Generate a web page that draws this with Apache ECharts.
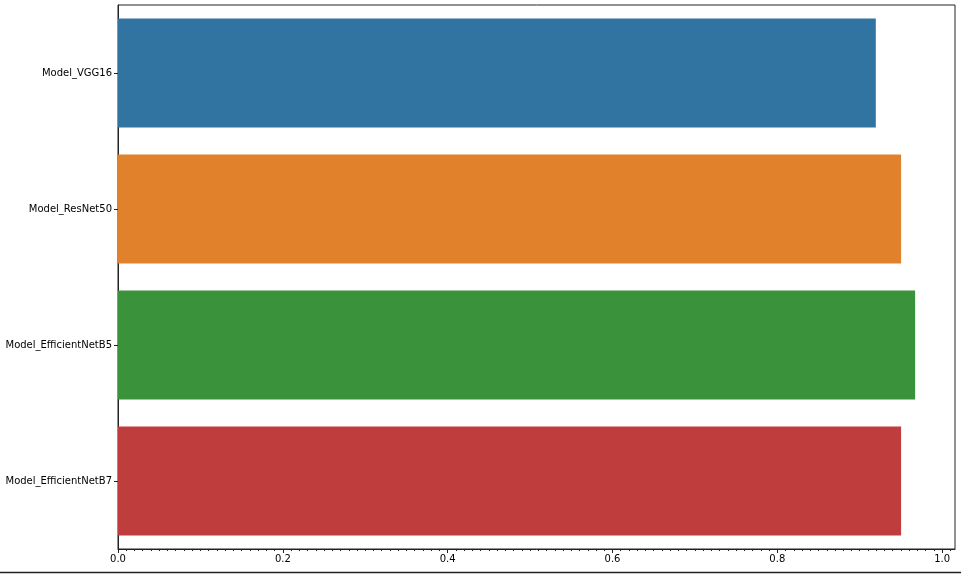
<!DOCTYPE html>
<html>
<head>
<meta charset="utf-8">
<script src="https://cdn.jsdelivr.net/npm/echarts@6/dist/echarts.min.js"></script>
<style>
html,body{margin:0;padding:0;background:#fff;}
#chart{width:961px;height:574px;}
</style>
</head>
<body>
<div id="chart"></div>
<script>
// model names and accuracy
var models = ['Model_VGG16', 'Model_ResNet50', 'Model_EfficientNetB5', 'Model_EfficientNetB7'];
var accuracy = [0.9195, 0.9502, 0.9672, 0.9502];
var barColors = ['#3274a1', '#e1812c', '#3a923a', '#c03d3e'];
var xTicks = [0.0, 0.2, 0.4, 0.6, 0.8, 1.0];

var chart = echarts.init(document.getElementById('chart'));

var option = {
	animation: false,
	textStyle: {fontFamily: 'DejaVu Sans'},
	grid: {
		left: 118, right: 6, top: 5, bottom: 25,
		show: true, borderColor: '#222', borderWidth: 1, backgroundColor: 'transparent'
	},
	xAxis: {
		type: 'value',
		min: 0,
		max: 1.0156,
		interval: 0.2,
		axisLine: {show: true, lineStyle: {color: '#222', width: 1}},
		axisTick: {show: true, length: 4, customValues: xTicks, lineStyle: {color: '#222'}},
		minorTick: {show: true, splitNumber: 20, length: 2, lineStyle: {color: '#222'}},
		splitLine: {show: false},
		axisLabel: {
			color: '#000', fontSize: 10, margin: 5,
			customValues: xTicks,
			formatter: function (v) { return v.toFixed(1); }
		}
	},
	yAxis: {
		type: 'category',
		data: models,
		inverse: true,
		axisLine: {show: true, lineStyle: {color: '#222', width: 1}},
		axisTick: {show: true, alignWithLabel: true, length: 4, lineStyle: {color: '#222'}},
		axisLabel: {color: '#000', fontSize: 10, margin: 6}
	},
	graphic: [{
		type: 'line',
		shape: {x1: 0, y1: 572.5, x2: 961, y2: 572.5},
		style: {stroke: '#222', lineWidth: 1.5},
		silent: true
	}],
	series: [{
		type: 'bar',
		barWidth: '80%',
		data: accuracy.map(function (v, i) {
			return {value: v, itemStyle: {color: barColors[i]}};
		})
	}]
};

chart.setOption(option);
</script>
</body>
</html>
